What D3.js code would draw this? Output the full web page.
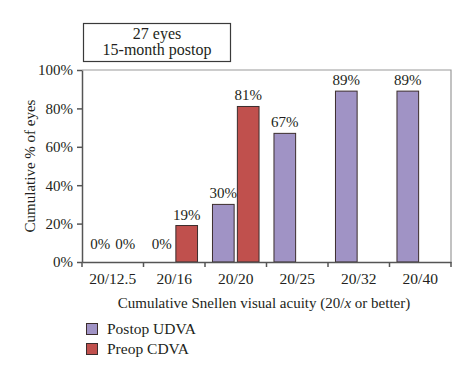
<!DOCTYPE html>
<html><head><meta charset="utf-8">
<script src="https://cdn.jsdelivr.net/npm/d3@7"></script>
<style>
html,body{margin:0;padding:0;background:#fff;}
text{font-family:"Liberation Serif","DejaVu Serif",serif;fill:#231f20;}
</style></head>
<body>
<svg id="chart" width="474" height="379"></svg>
<script>
const categories = ["20/12.5","20/16","20/20","20/25","20/32","20/40"];
const postopUDVA = [0, 0, 30, 67, 89, 89];
const preopCDVA = [0, 19, 81, null, null, null];
const yTicks = [0, 20, 40, 60, 80, 100];
const seriesNames = ["Postop UDVA", "Preop CDVA"];
const seriesColors = ["#a093c5", "#c0504d"];

const svg = d3.select("#chart");
const m = {left: 82, right: 451, top: 70, bottom: 262};
const fs = 15;

const x = d3.scaleBand().domain(categories).range([m.left, m.right]).padding(0);
const inner = d3.scaleBand().domain([0,1]).range([0, x.bandwidth()]).paddingInner(0.13).paddingOuter(0.3);
const y = d3.scaleLinear().domain([0, 100]).range([m.bottom, m.top]);

// plot border (top/right)
svg.append("path")
  .attr("d", `M${m.left},${m.top}H${m.right}V${m.bottom}`)
  .attr("fill", "none").attr("stroke", "#9a9a9a").attr("stroke-width", 1.2);

// bars
const series = [postopUDVA, preopCDVA];
series.forEach((vals, si) => {
  categories.forEach((c, i) => {
    const v = vals[i];
    if (v === null) return;
    const bx = x(c) + inner(si);
    if (v > 0) {
      svg.append("rect")
        .attr("x", bx).attr("y", y(v))
        .attr("width", inner.bandwidth()).attr("height", y(0) - y(v))
        .attr("fill", seriesColors[si]).attr("stroke", "#3b2d2d").attr("stroke-width", 1);
    }
    svg.append("text")
      .attr("x", bx + inner.bandwidth() / 2)
      .attr("y", v > 0 ? y(v) - 6 : y(0) - 13)
      .attr("text-anchor", "middle").attr("font-size", fs)
      .text(v + "%");
  });
});

// y axis
const yAxis = svg.append("g").attr("transform", `translate(${m.left},0)`)
  .call(d3.axisLeft(y).tickValues(yTicks).tickFormat(d => d + "%").tickSize(5).tickSizeOuter(0));
yAxis.select(".domain").attr("stroke", "#555").attr("stroke-width", 1.5);
yAxis.selectAll(".tick line").attr("stroke", "#555").attr("stroke-width", 1.5);
yAxis.selectAll("text").attr("font-size", fs).attr("font-family", "Liberation Serif").attr("fill", "#231f20").attr("x", -9);

// x axis
const xAxis = svg.append("g").attr("transform", `translate(0,${m.bottom})`)
  .call(d3.axisBottom(x).tickSize(0).tickSizeOuter(0));
xAxis.select(".domain").attr("stroke", "#555").attr("stroke-width", 1.5);
xAxis.selectAll("text").attr("font-size", 15.5).attr("font-family", "Liberation Serif").attr("fill", "#231f20").attr("dy", "1.2em");
// band boundary ticks
const bounds = categories.map(c => x(c)).concat([m.right]);
svg.append("g").selectAll("line").data(bounds).join("line")
  .attr("x1", d => d).attr("x2", d => d)
  .attr("y1", m.bottom).attr("y2", m.bottom + 5)
  .attr("stroke", "#555").attr("stroke-width", 1.5);

// axis titles
svg.append("text")
  .attr("transform", `translate(30,${(m.top + m.bottom) / 2}) rotate(-90)`)
  .attr("text-anchor", "middle").attr("dy", "0.35em").attr("font-size", fs)
  .text("Cumulative % of eyes");

const xt = svg.append("text")
  .attr("x", 264).attr("y", 308)
  .attr("text-anchor", "middle").attr("font-size", fs);
xt.append("tspan").text("Cumulative Snellen visual acuity (20/");
xt.append("tspan").attr("font-style", "italic").text("x");
xt.append("tspan").text(" or better)");

// annotation box
svg.append("rect").attr("x", 83.5).attr("y", 23.5).attr("width", 147).attr("height", 38)
  .attr("fill", "#fff").attr("stroke", "#3a3a3a").attr("stroke-width", 1.2);
svg.append("text").attr("x", 157).attr("y", 39).attr("text-anchor", "middle").attr("font-size", 16).text("27 eyes");
svg.append("text").attr("x", 157).attr("y", 55).attr("text-anchor", "middle").attr("font-size", 16).text("15-month postop");

// legend
seriesNames.forEach((n, i) => {
  const ly = 323 + i * 20;
  svg.append("rect").attr("x", 86.5).attr("y", ly + 0.5).attr("width", 11).attr("height", 11)
    .attr("fill", seriesColors[i]).attr("stroke", "#3b2d2d").attr("stroke-width", 1);
  svg.append("text").attr("x", 107).attr("y", ly + 6).attr("dy", "0.35em").attr("font-size", 15.5).text(n);
});
</script>
</body></html>
